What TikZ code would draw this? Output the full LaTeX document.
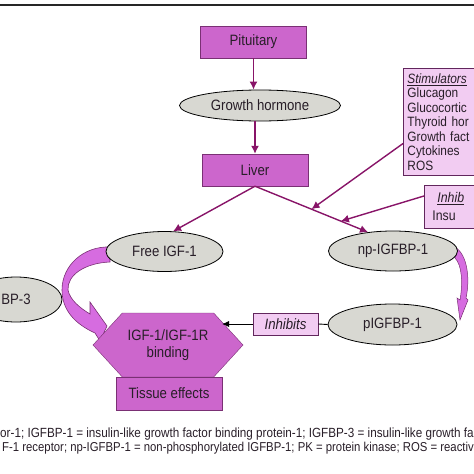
\documentclass[tikz,border=0pt]{standalone}
\usepackage{fontspec}
\setmainfont{Liberation Sans}[FakeStretch=0.88]
\usetikzlibrary{arrows.meta,shapes.geometric,shapes.symbols,calc}
\definecolor{magfill}{RGB}{204,102,204}
\definecolor{arcfill}{RGB}{214,108,224}
\definecolor{pinkfill}{RGB}{242,204,242}
\definecolor{grayfill}{RGB}{216,216,210}
\definecolor{boxline}{RGB}{122,48,116}
\definecolor{flowclr}{RGB}{136,20,104}
\definecolor{txtclr}{RGB}{40,30,40}

\begin{document}
\begin{tikzpicture}[x=1pt,y=-1pt]
\tikzstyle{every node}=[inner sep=2pt, text=txtclr, font=\fontsize{15}{17}\selectfont]
\tikzstyle{magbox}=[rectangle, draw=boxline, fill=magfill, minimum width=106pt, minimum height=32pt]
\tikzstyle{pinkbox}=[rectangle, draw=boxline!80!black, line width=0.9pt, fill=pinkfill]
\tikzstyle{grayell}=[ellipse, draw=black, line width=0.8pt, fill=grayfill, minimum height=40pt]
\tikzstyle{flow}=[draw=flowclr, line width=1.4pt, -{Latex[length=8pt,width=8pt]}]
\useasboundingbox (0,0) rectangle (474,474);
\clip (0,0) rectangle (474,474);
\draw[line width=2pt, black!85] (0,5) -- (474,5);

% top chain
\draw (253.5,42) node (pit) [magbox] {Pituitary};
\draw (260,105.5) node (gh) [grayell, minimum width=161pt, minimum height=31pt] {Growth hormone};
\draw (255,170) node (liver) [magbox] {Liver};

% regulators on the right
\draw (403,68) node (stim) [pinkbox, anchor=north west, align=left, text width=80pt, minimum height=107pt,
  inner xsep=4pt, font=\fontsize{13.5}{14.5}\selectfont] {\underline{\textit{Stimulators}}\\Glucagon\\Glucocortic\\Thyroid hor\\Growth fact\\Cytokines\\ROS};
\draw (424,185) node (inhb) [pinkbox, anchor=north west, align=left, text width=66pt, minimum height=43pt,
  inner xsep=8pt, font=\fontsize{14}{18}\selectfont] {\hspace*{5pt}\underline{\textit{Inhib}}\\Insu};

% curved arrows
\draw (16,299.5) node (bp3) [grayell, minimum width=92pt, minimum height=45pt] {BP-3};
\fill[arcfill, draw=boxline, line width=0.6pt] (110,247) .. controls (84,246) and (62,265) .. (62,290)
  .. controls (62,310) and (75,324) .. (95,333) -- (100,341) -- (107,326) -- (90,302) -- (90,314)
  .. controls (80,308) and (70,300) .. (68,290) .. controls (67,275) and (85,263) .. (110,262) -- cycle;
\fill[arcfill, draw=boxline, line width=0.5pt] (455,247) .. controls (468,255) and (470,280) .. (466,298)
  -- (468,300) -- (460,320) -- (457,298) -- (460,300) .. controls (463,283) and (462,265) .. (455,258) -- cycle;

\draw (164.5,251.5) node (free) [grayell, minimum width=117pt] {Free IGF-1};
\draw (393,251) node (np) [grayell, minimum width=129pt] {np-IGFBP-1};
\draw (392.5,324.5) node (pbp) [grayell, minimum width=129pt, minimum height=41pt] {pIGFBP-1};

% binding and effects
\draw (168,345) node (bind) [signal, signal to=east and west, signal pointer angle=95, draw=boxline,
  fill=magfill, minimum width=150pt, minimum height=64pt, align=center] {IGF-1/IGF-1R\\binding};
\draw (169,393.5) node (tissue) [magbox, minimum height=33pt] {Tissue effects};
\draw (285.5,324) node (inh) [pinkbox, minimum width=65pt, minimum height=22pt] {\textit{Inhibits}};
\coordinate (bindtip) at (222,324);

% connectors
\draw[flow] (pit.south) -- (pit.south |- gh.north);
\draw[flow] (liver.north |- gh.south) -- (liver.north);
\draw[flow] (liver.south) -- (free.67);
\draw[flow] (liver.south) -- coordinate[pos=0.5] (s1) coordinate[pos=0.76] (s2) (np.143);
\draw[flow] ($(stim.south west)!0.3!(stim.north west)$) -- (s1);
\draw[flow] ($(inhb.north west)!0.25!(inhb.south west)$) -- (s2);
\draw[line width=0.9pt] (pbp.west) -- (inh.east);
\draw[line width=0.9pt, -{Latex[length=7pt,width=6pt]}] (inh.west) -- (bindtip);

% caption
\draw (0,437) node (cap1) [anchor=base west, inner sep=0pt, font=\fontsize{13.3}{14}\selectfont]
  {or-1; IGFBP-1 = insulin-like growth factor binding protein-1; IGFBP-3 = insulin-like growth fa};
\draw (2,451) node (cap2) [anchor=base west, inner sep=0pt, font=\fontsize{12.9}{14}\selectfont]
  {F-1 receptor; np-IGFBP-1 = non-phosphorylated IGFBP-1; PK = protein kinase; ROS = reactiv};
\end{tikzpicture}
\end{document}
